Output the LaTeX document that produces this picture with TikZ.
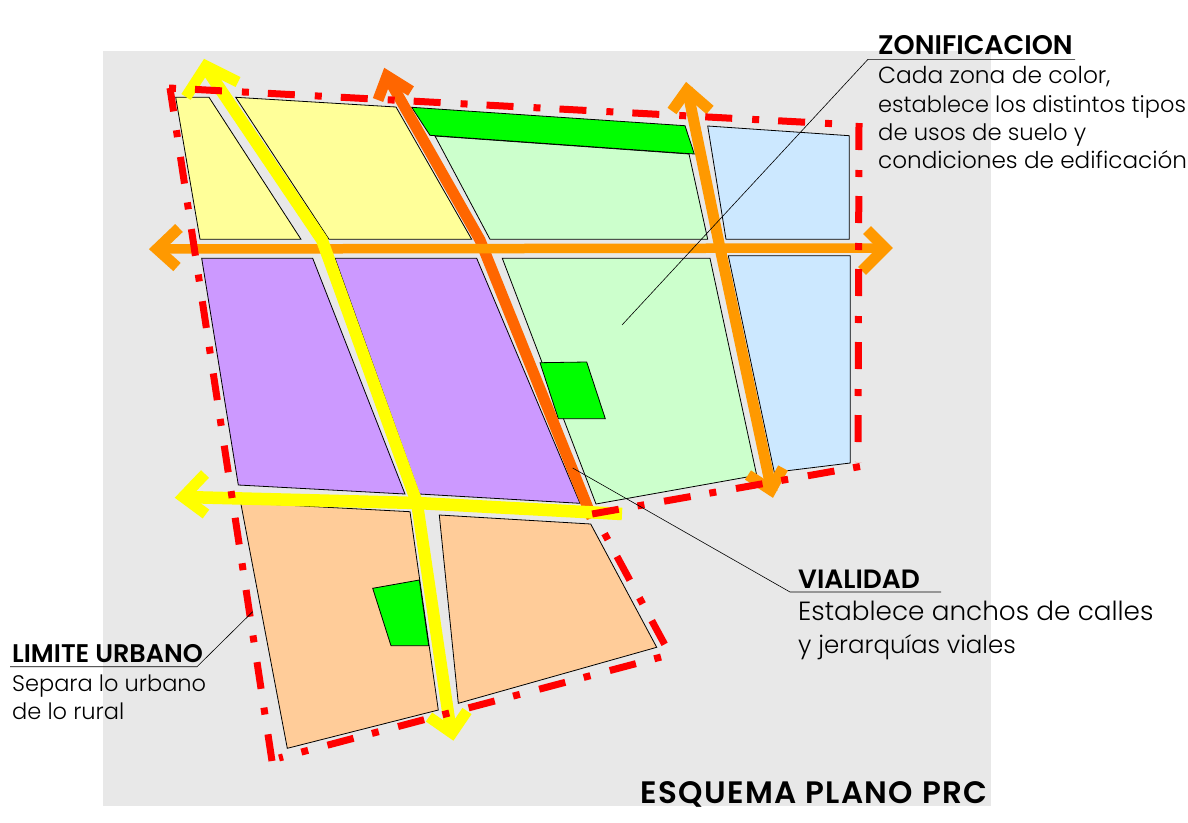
\documentclass[tikz,border=0pt]{standalone}
\usepackage{fontspec}
\setmainfont{Poppins}[UprightFont=* Light,BoldFont=* SemiBold]
\definecolor{bgg}{HTML}{E8E8E8}
\definecolor{lotyellow}{HTML}{FFFF99}
\definecolor{lotgreen}{HTML}{CCFFCC}
\definecolor{lotblue}{HTML}{CCE8FF}
\definecolor{lotpurple}{HTML}{CC99FF}
\definecolor{lotpeach}{HTML}{FFCC99}
\definecolor{parkgreen}{HTML}{00FF00}
\definecolor{roadorange}{HTML}{FF9900}
\definecolor{roaddark}{HTML}{FF6600}
\definecolor{roadyellow}{HTML}{FFFF00}
\definecolor{limitred}{HTML}{FF0000}
\tikzset{
 lot/.style={draw=black,line width=0.8pt,line join=miter},
 road/.style={line width=11pt,line join=round},
 tipped/.style={line width=11pt,line join=miter,miter limit=10},
 limitline/.style={draw=limitred,line width=7pt,dash pattern=on 27pt off 20pt on 7pt off 19pt},
 leader/.style={draw=black,line width=0.6pt},
 heading/.style={anchor=base west,inner sep=0pt,font=\fontsize{25.5}{30}\selectfont\bfseries},
 bodytext/.style={anchor=base west,inner sep=0pt,font=\fontsize{23.3}{28}\selectfont},
}
\begin{document}
\begin{tikzpicture}[x=1pt,y=-1pt]
\useasboundingbox (0,0) rectangle (1188,822);
\fill[white] (0,0) rectangle (1188,822);
\fill[bgg] (103,51) rectangle (991,806);
% lots
\filldraw[lot,fill=lotyellow] (175.7,97.3)--(209,97.3)--(301,239.3)--(200,239.3)--cycle;
\filldraw[lot,fill=lotyellow] (235.7,97.3)--(396,107)--(471.7,239.3)--(329,239.3)--cycle;
\filldraw[lot,fill=lotgreen] (435,136)--(689,154)--(707.7,239.3)--(490,239.3)--cycle;
\filldraw[lot,fill=parkgreen] (411.7,107.3)--(685,125.7)--(694.3,154)--(430,135.3)--cycle;
\filldraw[lot,fill=lotblue] (707.7,126)--(849.3,135.7)--(849.3,239.3)--(726,239.3)--cycle;
\filldraw[lot,fill=lotpurple] (201.7,258.3)--(312.7,258.3)--(405,494)--(238.3,485)--cycle;
\filldraw[lot,fill=lotpurple] (335,258.3)--(476.7,258.3)--(580,503.3)--(419.3,494)--cycle;
\filldraw[lot,fill=lotgreen] (502.3,258.3)--(710,258.3)--(756.7,475.3)--(596,504)--cycle;
\filldraw[lot,fill=lotblue] (728.3,255.7)--(850.3,255.7)--(850.3,463)--(774.3,472.3)--cycle;
\filldraw[lot,fill=parkgreen] (540,362.7)--(586.7,362)--(605.3,418.7)--(558.3,418.7)--cycle;
\filldraw[lot,fill=lotpeach] (240.7,502.7)--(410,511.7)--(438.3,710)--(287.3,748.3)--cycle;
\filldraw[lot,fill=lotpeach] (439.3,515)--(590.7,524)--(656.7,647.3)--(458.3,703.3)--cycle;
\filldraw[lot,fill=parkgreen] (372.7,588.3)--(419.3,580)--(428.7,645.7)--(391,645.7)--cycle;
% roads
\draw[road,draw=roaddark] (387,76)--(480,240)--(592,518);
\draw[tipped,draw=roaddark] (378,100)--(387,76)--(411,91);
\draw[road,draw=roadorange] (687,88)--(720,248)--(772,492);
\draw[tipped,draw=roadorange] (672,111)--(687,90)--(710,110);
\draw[tipped,draw=roadorange] (748,475)--(771,490)--(783,468);
\draw[road,line width=9.5pt,draw=roadorange] (158,249)--(884,248);
\draw[tipped,draw=roadorange] (179,228)--(157,249)--(177,267);
\draw[tipped,draw=roadorange] (867,230)--(885,248)--(862,271);
\draw[road,line width=12pt,draw=roadyellow] (206,68)--(322,240)--(417,503)--(451,732);
\draw[tipped,draw=roadyellow] (186,97)--(206,66)--(238,82);
\draw[tipped,draw=roadyellow] (429,717)--(452,733)--(467,711);
\draw[road,line width=12.5pt,draw=roadyellow] (184,497)--(417,503)--(622,514);
\draw[tipped,draw=roadyellow] (205,474)--(183,497)--(206,514);
% urban limit
\draw[limitline,dash phase=47pt] (169,88)--(838,124);
\draw[limitline] (859,123)--(858,462);
\draw[limitline,dash phase=47pt] (860,466.5)--(592,514);
\draw[limitline,dash phase=27pt] (595,516)--(665,645);
\draw[limitline,dash phase=47pt] (661,657)--(279,758);
\draw[limitline] (272,761)--(170,88);
% leaders
\coordinate (zonA) at (622,325);
\coordinate (zonB) at (868,59.3);
\coordinate (zonC) at (1075,59.3);
\draw[leader] (zonA)--(zonB)--(zonC);
\coordinate (viaA) at (572.7,468);
\coordinate (viaB) at (790,592);
\coordinate (viaC) at (941,592);
\draw[leader] (viaA)--(viaB)--(viaC);
\coordinate (limA) at (252.7,611.7);
\coordinate (limB) at (197,666.7);
\coordinate (limC) at (10,666.7);
\draw[leader] (limA)--(limB)--(limC);
% texts
\node[heading,font=\fontsize{26.9}{30}\selectfont\bfseries] (zt) at (878,54) {ZONIFICACION};
\node[bodytext] (z1) at (878,83) {Cada zona de color,};
\node[bodytext,font=\fontsize{22.5}{28}\selectfont] (z2) at (878,112) {establece los distintos tipos};
\node[bodytext,font=\fontsize{22.7}{28}\selectfont] (z3) at (878,140) {de usos de suelo y};
\node[bodytext,font=\fontsize{23.1}{28}\selectfont] (z4) at (878,168) {condiciones de edificación};
\node[heading,font=\fontsize{26.5}{30}\selectfont\bfseries] (vt) at (798,588) {VIALIDAD};
\node[bodytext,font=\fontsize{26.3}{30}\selectfont] (v1) at (798,620) {Establece anchos de calles};
\node[bodytext,font=\fontsize{24.5}{30}\selectfont] (v2) at (798,653) {y jerarquías viales};
\node[heading,font=\fontsize{25.5}{30}\selectfont\bfseries] (lt) at (12,662) {LIMITE URBANO};
\node[bodytext,font=\fontsize{22.5}{28}\selectfont] (l1) at (12,691) {Separa lo urbano};
\node[bodytext,font=\fontsize{22.5}{28}\selectfont] (l2) at (12,719) {de lo rural};
\node[anchor=base west,inner sep=0pt,font=\fontsize{31}{36}\selectfont\bfseries\addfontfeature{LetterSpace=4.5}] (title) at (640,803) {ESQUEMA PLANO PRC};
\end{tikzpicture}
\end{document}
